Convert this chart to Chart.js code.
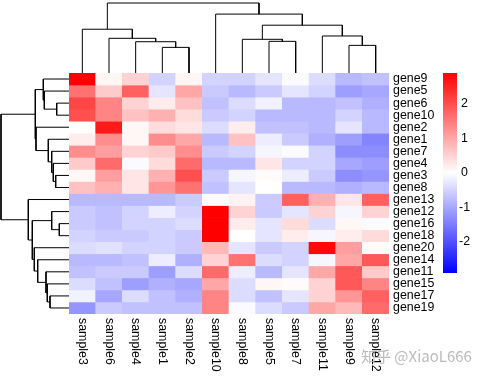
<!DOCTYPE html>
<html>
<head>
<meta charset="utf-8">
<script src="https://cdn.jsdelivr.net/npm/chart.js@4.4.0/dist/chart.umd.min.js"></script>
<style>
  body { margin: 0; background: #fff; }
  #wrap { position: relative; width: 480px; height: 384px; }
  canvas { position: absolute; }
</style>
</head>
<body>
<div id="wrap">
  <canvas id="heat" width="480" height="384" style="left:0;top:0"></canvas>
  <canvas id="colTree" width="320" height="73" style="left:69px;top:0"></canvas>
  <canvas id="rowTree" width="69" height="241" style="left:0;top:73px"></canvas>
  <canvas id="key" width="40" height="200" style="left:443px;top:73px"></canvas>
</div>
<script>
// Column / row order as drawn (after clustering)
const samples = ['sample3', 'sample6', 'sample4', 'sample1', 'sample2', 'sample10',
                 'sample8', 'sample5', 'sample7', 'sample11', 'sample9', 'sample12'];
const genes = ['gene9', 'gene5', 'gene6', 'gene10', 'gene2', 'gene1', 'gene7', 'gene4', 'gene3', 'gene8',
               'gene13', 'gene12', 'gene16', 'gene18', 'gene20', 'gene14', 'gene11', 'gene15', 'gene17', 'gene19'];

// Row-scaled values, one array per gene (same order as samples)
const gene9  = [2.9, 0.1, 0.5, -0.5, 0.1, -0.5, -0.5, -0.3, -0.05, -0.4, -0.8, -0.7];
const gene5  = [1.6, 0.6, 1.8, -0.3, 1.0, -0.6, -0.8, -0.6, -0.3, -0.5, -1.1, -1.0];
const gene6  = [2.1, 1.4, 0.5, 0.2, 0.7, -0.7, -0.4, -0.15, -0.8, -0.8, -0.7, -0.9];
const gene10 = [2.0, 1.4, 0.7, 0.9, 0.4, -0.6, -0.5, -0.8, -0.8, -0.8, -0.5, -0.8];
const gene2  = [0.0, 2.6, 0.1, 0.4, 0.3, -0.4, 0.2, -0.7, -0.7, -0.8, -0.3, -0.8];
const gene1  = [0.2, 1.3, 0.1, 1.3, 1.0, -0.8, 0.7, -0.2, -0.6, -0.9, -1.1, -1.4];
const gene7  = [1.3, 1.1, 0.5, 0.6, 1.3, -0.6, -0.5, -0.1, -0.05, -0.5, -1.3, -1.3];
const gene4  = [0.6, 1.7, -0.05, 0.4, 1.7, -0.8, -0.8, 0.3, -0.5, -0.5, -1.0, -1.1];
const gene3  = [0.1, 1.1, 0.3, 0.9, 2.0, -0.6, -0.1, 0.05, -0.2, -0.6, -1.3, -1.2];
const gene8  = [0.7, 0.9, 0.3, 1.2, 1.6, -0.7, -0.3, 0.0, -0.8, -0.8, -0.9, -0.8];
const gene13 = [-0.8, -0.8, -0.8, -0.8, -0.6, 0.05, 0.15, -0.6, 1.8, 0.9, 0.3, 1.8];
const gene12 = [-0.6, -0.7, -0.5, -0.2, -0.5, 2.9, 0.5, -0.6, -0.3, 0.5, -0.1, 0.5];
const gene16 = [-0.6, -0.7, -0.5, -0.5, -0.4, 3.0, 0.2, -0.3, 0.4, -0.4, 0.1, -0.05];
const gene18 = [-0.5, -0.6, -0.6, -0.5, -0.6, 3.0, 0.0, -0.3, 0.2, -0.1, 0.2, 0.4];
const gene20 = [-0.4, -0.35, -0.5, -0.5, -0.6, 0.8, -0.3, -0.6, -0.5, 2.8, 1.1, 0.05];
const gene14 = [-0.8, -0.8, -0.7, -0.2, -0.9, 0.5, 1.6, -0.4, -0.5, -0.1, 1.0, 1.9];
const gene11 = [-0.7, -0.6, -0.6, -1.1, -0.4, 1.7, -0.2, -0.8, -0.3, 1.0, 1.9, 0.6];
const gene15 = [-0.4, -0.7, -1.1, -0.9, -1.0, 1.0, -0.4, 0.1, 0.05, 0.5, 1.9, 1.4];
const gene17 = [-0.15, -1.0, -0.4, -0.7, -0.9, 1.4, -0.4, -0.7, -0.3, 0.5, 1.2, 1.8];
const gene19 = [-1.2, -0.6, -0.7, -0.7, -0.7, 1.4, -0.05, -0.4, -0.6, 1.0, 0.8, 1.7];
const rows = [gene9, gene5, gene6, gene10, gene2, gene1, gene7, gene4, gene3, gene8,
              gene13, gene12, gene16, gene18, gene20, gene14, gene11, gene15, gene17, gene19];

// hclust-style merges: negative = leaf at position (-k - 1), positive = earlier merge (1-based)
const colMerge = [[-4, -5], [-11, -12], [-3, 1], [-8, -9], [-7, 4], [-2, 3],
                  [-10, 2], [-1, 6], [5, 7], [-6, 9], [8, 10]];
const colHeight = [25.4, 27.4, 31.0, 31.4, 33.4, 34.4, 36.7, 43.4, 47.4, 58.4, 69.4];
const rowMerge = [[-13, -14], [-3, -4], [-9, -10], [-8, 3], [-7, 4], [-12, 1], [-19, -20],
                  [-6, 5], [-18, 7], [-17, 9], [-2, 2], [-1, 11], [-16, 10], [-5, 8],
                  [12, 14], [-15, 13], [6, 16], [-11, 17], [15, 18]];
const rowHeight = [9.7, 12.3, 13.3, 15.7, 17.3, 17.3, 19.0, 20.7, 21.7, 23.0, 24.7, 25.7,
                   31.3, 33.0, 33.7, 34.7, 36.7, 40.7, 68.0];

// Colour key
const keyMin = -2.9;
const keyMax = 2.9;
const keyTicks = [-2, -1, 0, 1, 2];

const FONT = '"Liberation Sans", Arial, sans-serif';

function heatColor(v) {
  const t = Math.max(-1, Math.min(1, v < 0 ? v / -keyMin : v / keyMax));
  if (t >= 0) {
    const c = Math.round(255 * (1 - t));
    return `rgb(255,${c},${c})`;
  }
  const c = Math.round(255 * (1 + t));
  return `rgb(${c},${c},255)`;
}

// Turn a merge list into bracket segments: [[pos, h], [pos, H], [pos2, H], [pos2, h2]]
function treeSegments(merge, height) {
  const pos = [];
  const node = k => k < 0 ? { p: -k - 0.5, h: 0 } : { p: pos[k - 1], h: height[k - 1] };
  return merge.map(([a, b], i) => {
    const A = node(a), B = node(b);
    pos[i] = (A.p + B.p) / 2;
    return [[A.p, A.h], [A.p, height[i]], [B.p, height[i]], [B.p, B.h]];
  });
}

const noChrome = { legend: { display: false }, tooltip: { enabled: false } };

// Labels round the heatmap
const heatLabels = {
  id: 'heatLabels',
  afterDraw(chart) {
    const { ctx, chartArea, scales: { x, y } } = chart;
    ctx.save();
    ctx.fillStyle = '#000';
    ctx.font = '12.4px ' + FONT;
    ctx.textAlign = 'left';
    ctx.textBaseline = 'middle';
    genes.forEach((g, r) => ctx.fillText(g, chartArea.right + 4, y.getPixelForValue(r + 0.5)));
    samples.forEach((s, i) => {
      ctx.save();
      ctx.translate(x.getPixelForValue(i), chartArea.bottom + 4);
      ctx.rotate(Math.PI / 2);
      ctx.fillText(s, 0, 0);
      ctx.restore();
    });
    // watermark
    ctx.font = '15px "Noto Sans CJK SC", sans-serif';
    ctx.fillStyle = 'rgba(175,175,175,0.85)';
    ctx.fillText('知乎 @XiaoL666', 361, 356);
    ctx.restore();
  }
};

// Heatmap: one floating bar per cell
new Chart(document.getElementById('heat'), {
  type: 'bar',
  data: {
    labels: samples,
    datasets: rows.map((vals, r) => ({
      label: genes[r],
      data: vals.map(() => [r, r + 1]),
      backgroundColor: vals.map(heatColor),
      borderWidth: 0,
      barPercentage: 1,
      categoryPercentage: 1,
      grouped: false
    }))
  },
  options: {
    responsive: false,
    animation: false,
    layout: { padding: { left: 69, top: 73, right: 91, bottom: 70 } },
    plugins: noChrome,
    scales: {
      x: { display: false },
      y: { display: false, min: 0, max: 20, reverse: true }
    }
  },
  plugins: [heatLabels]
});

// Column dendrogram
new Chart(document.getElementById('colTree'), {
  type: 'scatter',
  data: {
    datasets: treeSegments(colMerge, colHeight).map(seg => ({
      data: seg.map(([p, h]) => ({ x: p, y: h })),
      showLine: true,
      borderColor: '#000',
      borderWidth: 1,
      pointRadius: 0,
      clip: false
    }))
  },
  options: {
    responsive: false,
    animation: false,
    layout: { padding: { top: 3 } },
    plugins: noChrome,
    scales: {
      x: { display: false, min: 0, max: samples.length },
      y: { display: false, min: 0, max: colHeight[colHeight.length - 1] }
    }
  }
});

// Row dendrogram
new Chart(document.getElementById('rowTree'), {
  type: 'scatter',
  data: {
    datasets: treeSegments(rowMerge, rowHeight).map(seg => ({
      data: seg.map(([p, h]) => ({ x: h, y: p })),
      showLine: true,
      borderColor: '#000',
      borderWidth: 1,
      pointRadius: 0,
      clip: false
    }))
  },
  options: {
    responsive: false,
    animation: false,
    layout: { padding: { left: 1 } },
    plugins: noChrome,
    scales: {
      x: { display: false, min: 0, max: rowHeight[rowHeight.length - 1], reverse: true },
      y: { display: false, min: 0, max: genes.length, reverse: true }
    }
  }
});

// Colour key
function keyGradient(context) {
  const { chart } = context;
  const { ctx, chartArea, scales } = chart;
  if (!chartArea) return null;
  const y = scales.y;
  const g = ctx.createLinearGradient(0, y.getPixelForValue(keyMin), 0, y.getPixelForValue(keyMax));
  g.addColorStop(0, heatColor(keyMin));
  g.addColorStop((0 - keyMin) / (keyMax - keyMin), heatColor(0));
  g.addColorStop(1, heatColor(keyMax));
  return g;
}

new Chart(document.getElementById('key'), {
  type: 'bar',
  data: {
    labels: [''],
    datasets: [{
      data: [[keyMin, keyMax]],
      backgroundColor: keyGradient,
      borderWidth: 0,
      barPercentage: 1,
      categoryPercentage: 1
    }]
  },
  options: {
    responsive: false,
    animation: false,
    layout: { padding: 0 },
    plugins: noChrome,
    scales: {
      x: { display: false },
      y: {
        position: 'right',
        min: keyMin,
        max: keyMax,
        grid: { display: false, drawTicks: false },
        border: { display: false },
        afterBuildTicks: s => { s.ticks = keyTicks.map(v => ({ value: v })); },
        // fixed label column, and no extra room above/below the bar
        afterFit: s => { s.width = 26; s.paddingTop = 0; s.paddingBottom = 0; },
        ticks: { padding: 2, crossAlign: 'center', color: '#000', font: { family: FONT, size: 12.4 } }
      }
    }
  }
});
</script>
</body>
</html>
